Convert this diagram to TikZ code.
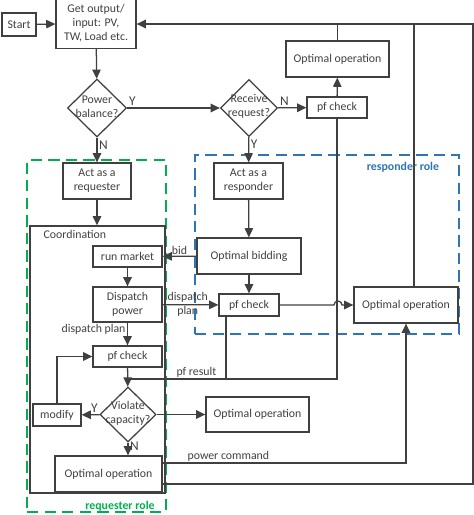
\documentclass[tikz,border=0pt]{standalone}
\usepackage{fontspec}
\setmainfont{Carlito}
\usepackage{tikz}
\usetikzlibrary{positioning,shapes.geometric,arrows.meta,calc}
\definecolor{linegray}{RGB}{64,64,64}
\definecolor{reqgreen}{RGB}{0,176,80}
\definecolor{respblue}{RGB}{46,117,182}
\tikzset{
  box/.style={draw=linegray, line width=0.9pt, align=center, inner sep=1pt, text=linegray, font=\fontsize{8.4}{10}\selectfont},
  decision/.style={draw=linegray, line width=0.9pt, diamond, inner sep=0pt, minimum width=1.475cm, minimum height=1.45cm},
  dtext/.style={text=linegray, align=center, font=\fontsize{8.4}{10}\selectfont},
  flow/.style={draw=linegray, line width=0.9pt, -{Triangle[length=6.5pt,width=6pt]}},
  link/.style={draw=linegray, line width=0.9pt},
  lbl/.style={text=linegray, font=\fontsize{8.4}{10}\selectfont, inner sep=1pt},
  yn/.style={text=linegray, font=\fontsize{9.5}{10}\selectfont, inner sep=1pt},
  rolebox/.style={line width=1.2pt, dash pattern=on 8pt off 4.5pt, inner sep=0pt},
}

\begin{document}
\begin{tikzpicture}[x=0.025cm, y=-0.025cm]
\useasboundingbox (0,0) rectangle (474,515);

% role areas
\node[rolebox, draw=reqgreen, minimum width=3.475cm, minimum height=8.8cm] (reqrole) at (96.5,336) {};
\node[rolebox, draw=respblue, minimum width=6.6cm, minimum height=4.475cm] (resprole) at (327,244.5) {};
\node[font=\fontsize{8.4}{10}\selectfont\bfseries, text=reqgreen] (reqlbl) at (120,506) {requester role};
\node[font=\fontsize{8.4}{10}\selectfont\bfseries, text=respblue] (resplbl) at (403,167) {responder role};

% top row
\node[box, minimum width=0.85cm, minimum height=0.575cm] (start) at (19,24.5) {Start};
\node[box, minimum width=2cm, minimum height=1.25cm] (get) at (96,23.5) {Get output/\\input: PV,\\TW, Load etc.};
\node[decision, label={[dtext, yshift=1pt]center:Power\\balance?}] (pb) at (97,108) {};
\node[decision, minimum width=1.425cm, minimum height=1.425cm, label={[dtext, yshift=1pt]center:Receive\\request?}] (rr) at (249,108) {};
\node[box, minimum width=2.575cm, minimum height=0.9cm] (optop1) at (337.5,59) {Optimal operation};
\node[box, minimum width=1.5cm, minimum height=0.525cm] (pf1) at (337,107.5) {pf check};

% requester side
\node[box, minimum width=1.7cm, minimum height=0.9cm] (actreq) at (97,181) {Act as a\\requester};
\node[draw=linegray, line width=0.9pt, inner sep=0pt, minimum width=3.375cm, minimum height=6.675cm] (coord) at (97.5,359.5) {};
\node[lbl, anchor=west] (coordlbl) at (42,234) {Coordination};
\node[box, minimum width=1.725cm, minimum height=0.525cm] (market) at (127.5,256.5) {run market};
\node[box, minimum width=1.725cm, minimum height=0.875cm] (dispatch) at (127.5,304.5) {Dispatch\\power};
\node[box, minimum width=1.725cm, minimum height=0.525cm] (pf3) at (127.5,356.5) {pf check};
\node[decision, minimum width=1.4cm, minimum height=1.375cm, label={[dtext, yshift=1pt]center:Violate\\capacity?}] (vc) at (128,414.5) {};
\node[box, minimum width=1.2cm, minimum height=0.55cm] (modify) at (57,415) {modify};
\node[box, minimum width=2.575cm, minimum height=0.875cm] (optop3) at (257.5,414.5) {Optimal operation};
\node[box, minimum width=2.675cm, minimum height=0.9cm] (optop4) at (108.5,474) {Optimal operation};

% responder side
\node[box, minimum width=1.725cm, minimum height=0.9cm] (actresp) at (248.5,181) {Act as a\\responder};
\node[box, minimum width=2.6cm, minimum height=0.9cm] (bidding) at (249,256) {Optimal bidding};
\node[box, minimum width=1.5cm, minimum height=0.55cm] (pf2) at (249,305) {pf check};
\node[box, minimum width=2.6cm, minimum height=0.9cm] (optop2) at (406,305) {Optimal operation};

% corner points of the long lines
\coordinate (ne) at (473,24);
\coordinate (se) at (473,484);
\coordinate (pr) at (226,379);
\coordinate (pc) at (406,463);
\coordinate (up2) at (414,287);
\coordinate (hopa) at (334,305);

% main flow
\draw[flow] (start) -- (get);
\draw[flow] (get) -- (pb);
\draw[flow] (pb) -- node[yn, anchor=south west, pos=0]{Y} (rr);
\draw[flow] (rr) -- node[yn, anchor=south west, pos=0]{N} (pf1);
\draw[flow] (pf1) -- (optop1);
\draw[link] (optop1.north) -- (optop1.north |- ne);
\draw[flow] (pb) -- node[yn, anchor=west, pos=0.3]{N} (actreq);
\draw[flow] (rr) -- node[yn, anchor=west, pos=0.3]{Y} (actresp);

% requester
\draw[flow] (actreq) -- (coord.north -| actreq);
\draw[flow] (market) -- (dispatch);
\draw[flow] (dispatch) -- node[lbl, left, pos=0.3]{dispatch plan} (pf3);
\draw[flow] (pf3) -- (vc);
\draw[flow] (vc) -- node[yn, anchor=south east, pos=0]{Y} (modify);
\draw[flow] (modify) |- (pf3);
\draw[flow] (vc) -- (optop3);
\draw[flow] (vc) -- node[yn, anchor=west, pos=0.3]{N} (optop4.north -| vc);

% responder
\draw[flow] (actresp) -- (bidding);
\draw[flow] (bidding) -- node[lbl, above]{bid} (market);
\draw[flow] (bidding) -- (pf2);
\draw[flow] (dispatch) -- node[lbl, align=center, pos=0.45]{dispatch\\plan} (pf2);
\draw[flow] (pf2) -- (hopa) arc[start angle=180, end angle=0, radius=0.1cm] -- (optop2);

% feedback lines
\draw[link] (pr |- pf2.south) -- (pr) -- node[lbl, above, pos=0.3]{pf result} (pf3.south |- pr);
\draw[link] (pf1) -- (pf1 |- pr) -- (pr);
\draw[flow] (optop4.east |- pc) -- node[lbl, above, pos=0.27]{power command} (pc) -- (optop2);
\draw[link] (up2) -- (up2 |- ne);
\draw[flow] (optop4.east |- se) -- (se) -- (ne) -- (get.east |- ne);
\end{tikzpicture}
\end{document}
